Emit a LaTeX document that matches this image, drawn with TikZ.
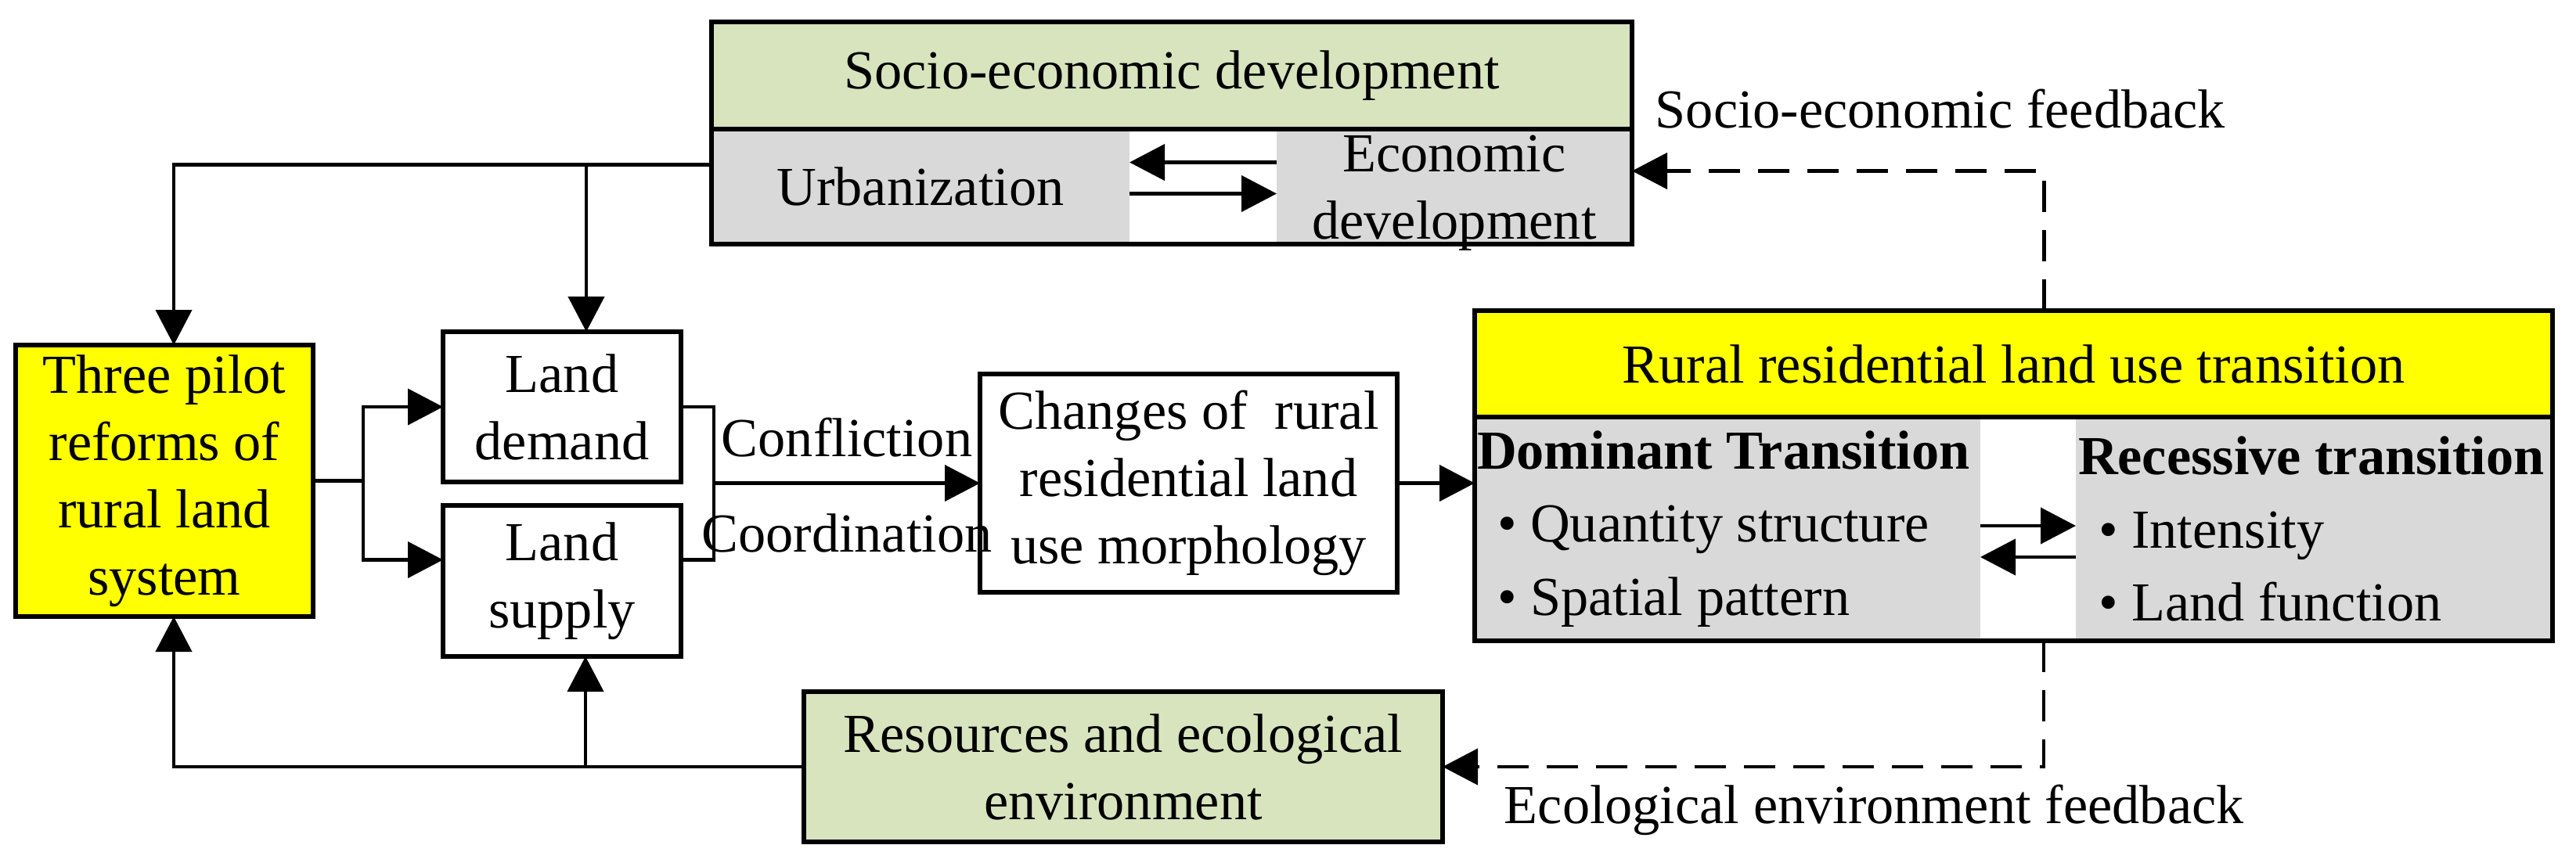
\documentclass[tikz,border=0pt]{standalone}
\usepackage{fontspec}
\setmainfont{Liberation Serif}
\usepackage{tikz}
\usetikzlibrary{arrows.meta,fit}
\definecolor{socgreen}{RGB}{215,228,189}
\definecolor{subgray}{RGB}{217,217,217}
\definecolor{pilotyellow}{RGB}{255,255,0}
\tikzset{
greenbox/.style={rectangle, fill=socgreen, inner sep=0pt, outer sep=0pt},
graybox/.style={rectangle, fill=subgray, inner sep=0pt, outer sep=0pt},
yellowbox/.style={rectangle, fill=pilotyellow, inner sep=0pt, outer sep=0pt},
whitebox/.style={rectangle, draw=black, line width=1.5pt, inner sep=0pt, outer sep=0pt},
outline/.style={rectangle, draw=black, line width=1.5pt, inner sep=0pt, outer sep=0pt},
>={Triangle[width=4.6mm,length=4.5mm]},
link/.style={line width=1.2pt},
feedback/.style={line width=1.2pt, dash pattern=on 4mm off 2.3mm},
bulletlist/.style={text width=#1, align=flush left, inner sep=0pt, font=\fontsize{20}{26.5}\selectfont}
}

\begin{document}
\begin{tikzpicture}[align=center, font=\fontsize{20}{24.5}\selectfont]
\useasboundingbox (0,0) rectangle (32.91,-11.02);

%Socio-economic block
\node[greenbox, minimum width=11.76cm, minimum height=1.37cm] (socio) at(14.97,-0.965) {Socio-economic development};
\node[graybox, minimum width=5.34cm, minimum height=1.47cm] (urban) at(11.76,-2.385) {Urbanization};
\node[graybox, minimum width=4.54cm, minimum height=1.47cm] (econ) at(18.58,-2.385) {};
\node (econtext) at([yshift=-0.8mm]econ.center) {Economic\\development};
\node[outline, fit=(socio)(urban)(econ)] (sedframe) {};
\draw[line width=1.5pt] (socio.south west) -- (socio.south east);

%Left part
\node[yellowbox, draw, line width=1.5pt, minimum width=3.8cm, minimum height=3.47cm] (three) at(2.10,-6.145) {Three pilot\\reforms of\\rural land\\system};
\node[whitebox, minimum width=3.04cm, minimum height=1.92cm] (demand) at(7.18,-5.20) {Land\\demand};
\node[whitebox, minimum width=3.04cm, minimum height=1.93cm] (supply) at(7.18,-7.425) {Land\\supply};
\node[whitebox, minimum width=5.33cm, minimum height=2.79cm] (changes) at(15.185,-6.175) {Changes of~ rural\\residential land\\use morphology};

%Transition block
\node[yellowbox, minimum width=13.77cm, minimum height=1.36cm] (trans) at(25.725,-4.65) {Rural residential land use transition};
\node[graybox, minimum width=6.46cm, minimum height=2.86cm] (dom) at(22.07,-6.76) {};
\node[graybox, minimum width=6.09cm, minimum height=2.86cm] (rec) at(29.565,-6.76) {};
\node[outline, fit=(trans)(dom)(rec)] (transframe) {};
\draw[line width=1.5pt] (trans.south west) -- (trans.south east);
\node[bulletlist=6.46cm] (domtext) at([xshift=0.3mm]dom.center) {\textbf{Dominant Transition}\\\hspace*{2.6mm}\textbullet\ Quantity structure\\\hspace*{2.6mm}\textbullet\ Spatial pattern};
\node[bulletlist=6.09cm] (rectext) at([xshift=0.3mm]rec.center) {\textbf{Recessive transition}\\\hspace*{2.6mm}\textbullet\ Intensity\\\hspace*{2.6mm}\textbullet\ Land function};

%Resources block
\node[greenbox, draw, line width=1.5pt, minimum width=8.16cm, minimum height=1.92cm] (res) at(14.35,-9.80) {Resources and ecological\\environment};

%Connectors
\coordinate (utap) at ([yshift=2.8mm]urban.west);
\coordinate (dtap) at ([xshift=3.1mm]demand.north);
\draw[link,->] (utap) -| ([xshift=1.2mm]three.north);
\draw[link,->] (dtap |- utap) -- (dtap);

\draw[link,->] ([yshift=3.1mm]econ.west) -- ([yshift=3.1mm]urban.east);
\draw[link,->] ([yshift=-0.9mm]urban.east) -- ([yshift=-0.9mm]econ.west);

\coordinate (lsplit) at ([xshift=6.4mm]three.east);
\draw[link] (three.east) -- (lsplit);
\draw[link,->] (lsplit) |- (demand.west);
\draw[link,->] (lsplit) |- ([yshift=2.7mm]supply.west);

\coordinate (dout) at ([xshift=4.2mm]demand.east);
\coordinate (rjoin) at (dout |- changes.west);
\draw[link] (demand.east) -| (rjoin) |- ([yshift=2.7mm]supply.east);
\draw[link,->] (rjoin) -- node[anchor=base, yshift=3.4mm] {Confliction} node[anchor=base, yshift=-8.8mm] {Coordination} (changes.west);

\draw[link,->] (changes.east) -- (changes.east -| dom.west);

\draw[link,->] ([yshift=0.4mm]dom.east) -- ([yshift=0.4mm]rec.west);
\draw[link,->] ([yshift=-3.6mm]rec.west) -- ([yshift=-3.6mm]dom.east);

\coordinate (tin) at ([xshift=1.2mm]three.south);
\coordinate (sin) at ([xshift=3.0mm]supply.south);
\draw[link,->] (res.west) -| (tin);
\draw[link,->] (sin |- res.west) -- (sin);

% feedback loops
\draw[feedback,->] ([xshift=3.9mm]trans.north) |- node[pos=1, anchor=base west, xshift=1.6mm, yshift=5.5mm] {Socio-economic feedback} ([yshift=2mm]econ.east);
\draw[feedback,->] ([xshift=3.85mm]transframe.south) |- node[pos=1, anchor=base west, xshift=6.5mm, yshift=-7.2mm] {Ecological environment feedback} (res.east);
\end{tikzpicture}
\end{document}
